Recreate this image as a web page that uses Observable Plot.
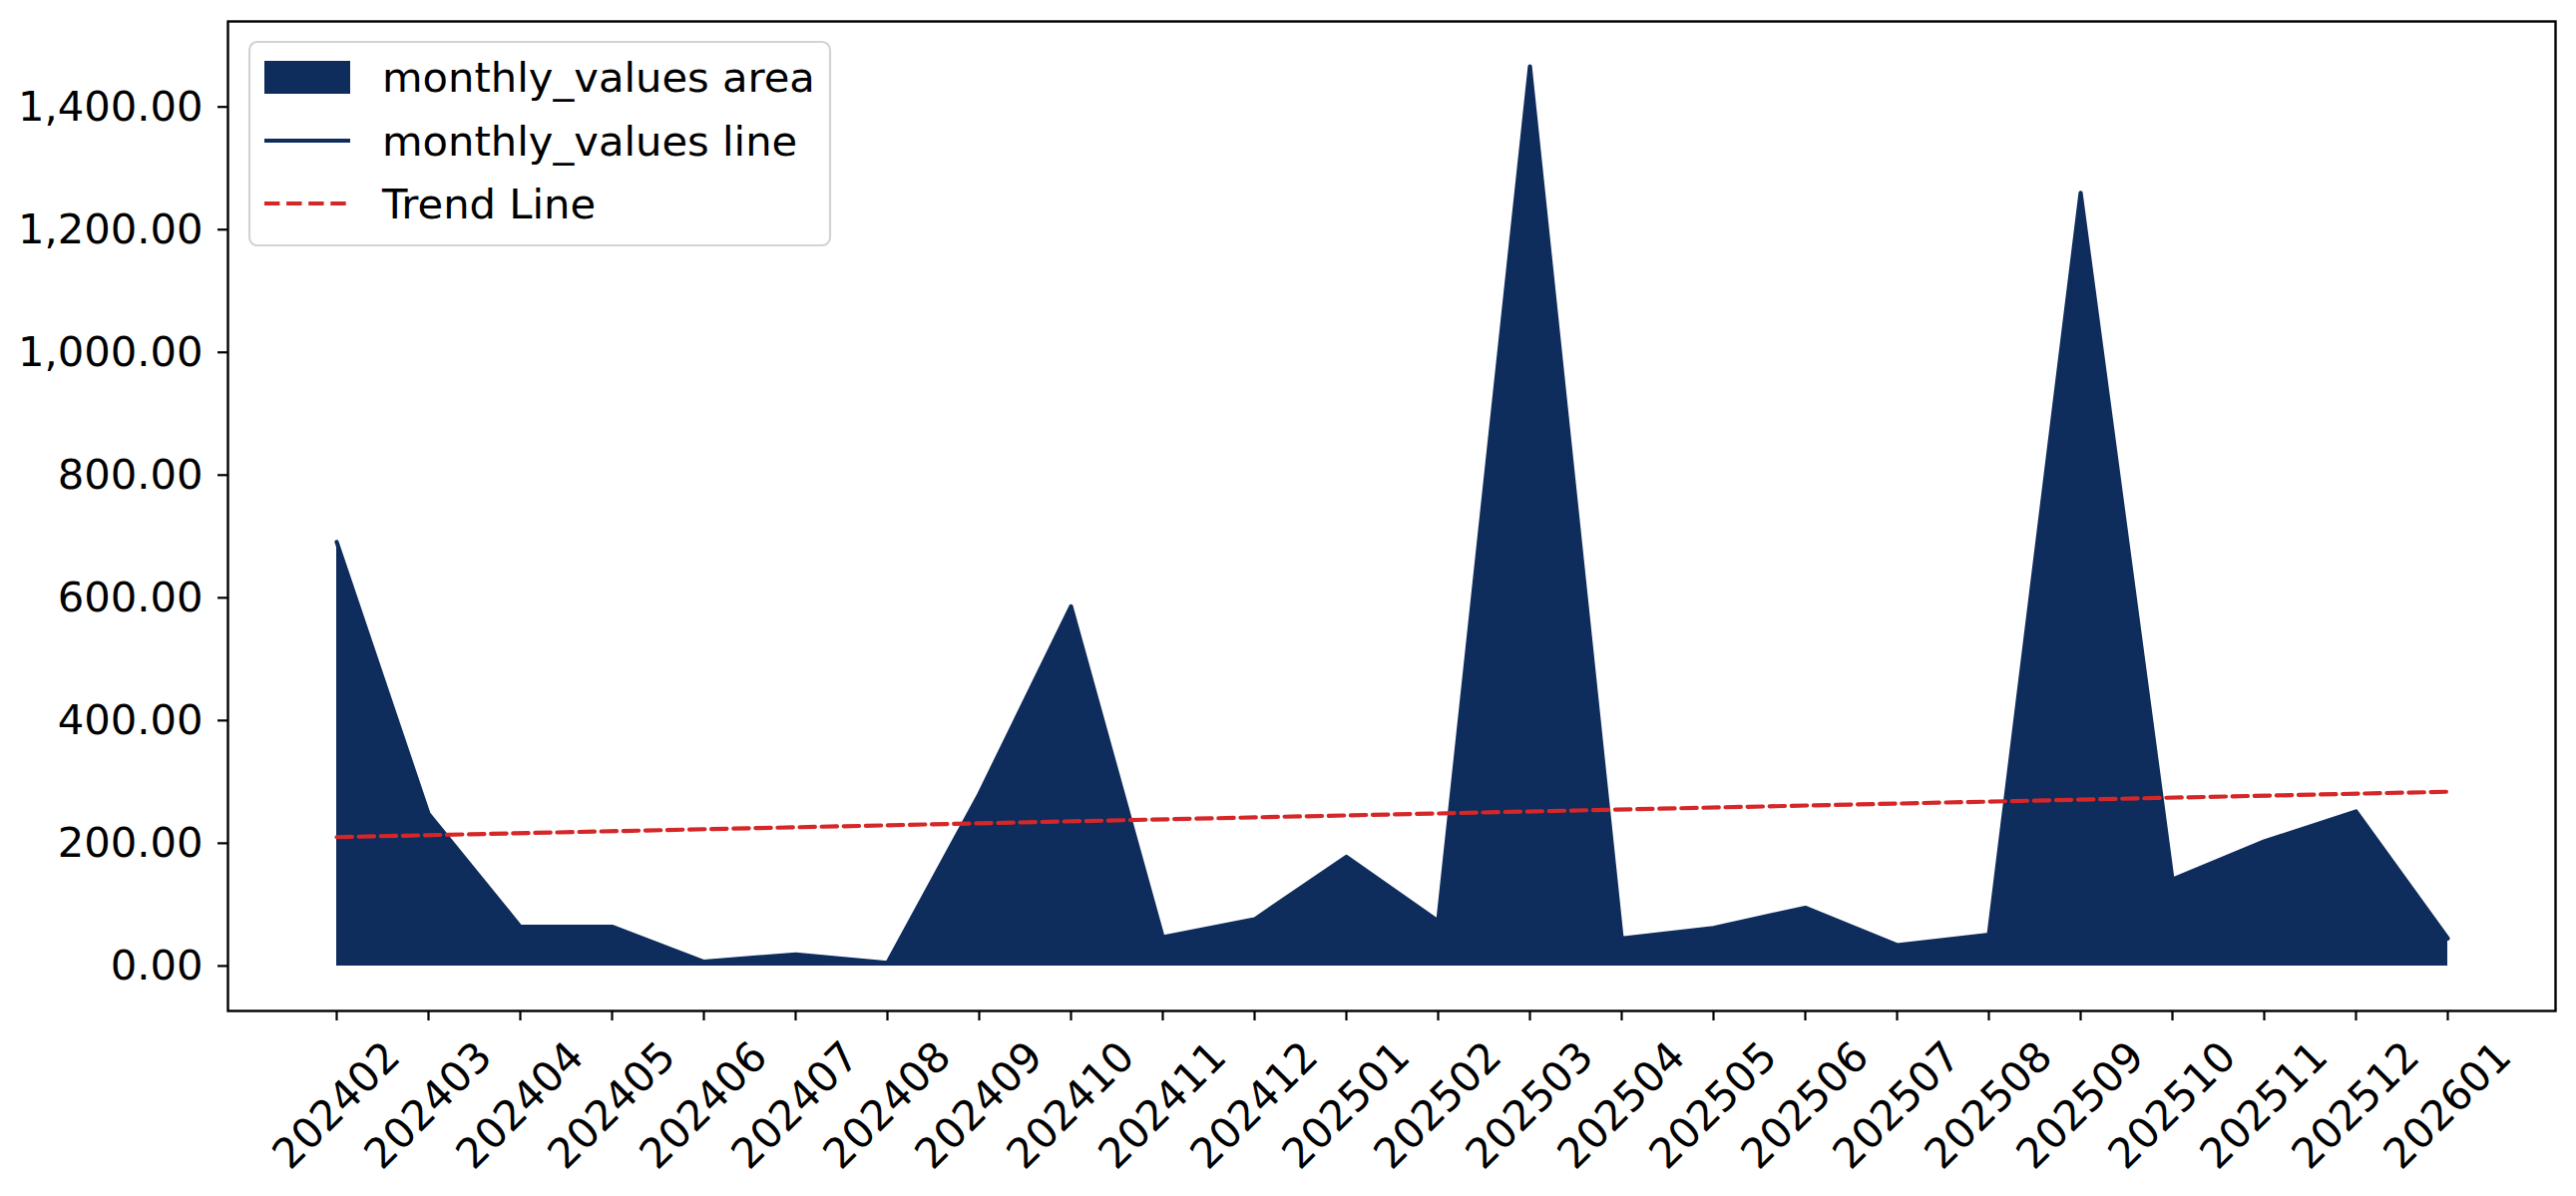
<!DOCTYPE html>
<html><head><meta charset="utf-8">
<script src="https://cdn.jsdelivr.net/npm/d3@7"></script>
<script src="https://cdn.jsdelivr.net/npm/@observablehq/plot@0.6"></script>
<style>body{margin:0;background:#fff}#chart svg{display:block}</style>
</head><body><div id="chart"></div>
<script>
const months = ["202402","202403","202404","202405","202406","202407","202408","202409","202410","202411","202412","202501","202502","202503","202504","202505","202506","202507","202508","202509","202510","202511","202512","202601"];
const monthlyValues = [691, 248, 64, 64, 7, 19, 5, 280, 586, 47, 76, 178, 73, 1466, 45, 62, 95, 34, 51, 1260, 141, 203, 252, 45];
const trendMonths = ["202402", "202601"];
const trendValues = [210, 284];
const yTicks = [0, 200, 400, 600, 800, 1000, 1200, 1400];
const legendLabels = ["monthly_values area", "monthly_values line", "Trend Line"];

const navy = "#0e2c5c";
const red = "#d62728";
const fs = 41.67;
const data = months.map((m, i) => ({month: m, value: monthlyValues[i]}));
const trend = trendMonths.map((m, i) => ({month: m, value: trendValues[i]}));
const maxV = d3.max(monthlyValues);

const chart = Plot.plot({
  width: 2582, height: 1199,
  marginLeft: 228, marginRight: 21, marginTop: 21, marginBottom: 186,
  style: {fontFamily: "DejaVu Sans", fontSize: fs + "px", background: "white", color: "black"},
  x: {type: "point", domain: months, padding: 1.15, label: null},
  y: {domain: [-0.05 * maxV, 1.05 * maxV], label: null},
  marks: [
    Plot.areaY(data, {x: "month", y: "value", fill: navy}),
    Plot.lineY(data, {x: "month", y: "value", stroke: navy, strokeWidth: 4.17}),
    Plot.lineY(trend, {x: "month", y: "value", stroke: red, strokeWidth: 4.17, strokeDasharray: "15.4 6.7"}),
    Plot.frame({stroke: "black", strokeWidth: 2.4}),
    Plot.axisY({ticks: yTicks, tickFormat: d3.format(",.2f"), tickSize: 10, tickPadding: 15, strokeWidth: 2.2, fontSize: fs, label: null}),
    Plot.axisX({tickSize: 10, strokeWidth: 2.2, tickFormat: () => "", label: null}),
    Plot.text(months, {x: d => d, frameAnchor: "bottom", dy: 95, rotate: -45, textAnchor: "middle", lineAnchor: "middle", fontSize: fs, fill: "black"})
  ]
});
document.getElementById("chart").appendChild(chart);

// Legend inside the plot area (upper left)
const svg = d3.select(chart);
const g = svg.append("g").attr("font-family", "DejaVu Sans").attr("font-size", fs).attr("text-anchor", "start");
g.append("rect").attr("x", 250).attr("y", 42).attr("width", 582).attr("height", 204)
  .attr("rx", 8).attr("fill", "white").attr("fill-opacity", 0.8).attr("stroke", "#d3d3d3").attr("stroke-width", 2.2);
const rowY = [77.5, 141, 204];
g.append("rect").attr("x", 265).attr("y", rowY[0] - 16.5).attr("width", 86).attr("height", 33).attr("fill", navy);
g.append("line").attr("x1", 265).attr("x2", 351).attr("y1", rowY[1]).attr("y2", rowY[1]).attr("stroke", navy).attr("stroke-width", 4.17);
g.append("line").attr("x1", 265).attr("x2", 351).attr("y1", rowY[2]).attr("y2", rowY[2]).attr("stroke", red).attr("stroke-width", 4.17).attr("stroke-dasharray", "15.4 6.7");
legendLabels.forEach((t, i) => {
  g.append("text").attr("x", 383).attr("y", rowY[i]).attr("dy", "0.35em").attr("text-anchor", "start").attr("fill", "black").text(t);
});
</script>
</body></html>
